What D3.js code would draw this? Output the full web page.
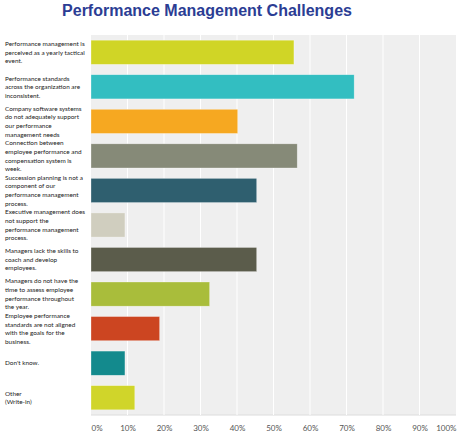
<!DOCTYPE html>
<html>
<head>
<meta charset="utf-8">
<script src="https://cdn.jsdelivr.net/npm/d3@7"></script>
<style>
  body { margin: 0; background: #fff; }
  svg { display: block; }
</style>
</head>
<body>
<div id="chart"></div>
<script>
// chart data
var categories = [
  "Performance management is\nperceived as a yearly tactical\nevent.",
  "Performance standards\nacross the organization are\ninconsistent.",
  "Company software systems\ndo not adequately support\nour performance\nmanagement needs",
  "Connection between\nemployee performance and\ncompensation system is\nweek.",
  "Succession planning is not a\ncomponent of our\nperformance management\nprocess.",
  "Executive management does\nnot support the\nperformance management\nprocess.",
  "Managers lack the skills to\ncoach and develop\nemployees.",
  "Managers do not have the\ntime to assess employee\nperformance throughout\nthe year.",
  "Employee performance\nstandards are not aligned\nwith the goals for the\nbusiness.",
  "Don't know.",
  "Other\n(Write-in)"
];
var values = [55.6, 72.1, 40.2, 56.5, 45.4, 9.3, 45.4, 32.5, 18.8, 9.3, 12.0];
var tickValues = [0, 10, 20, 30, 40, 50, 60, 70, 80, 90, 100];

var barColors = ["#d0d526", "#33bec1", "#f6a821", "#868a78", "#2f5f6f", "#d0cebf",
                 "#5b5c4b", "#a9bd3b", "#cc4521", "#138a8d", "#d0d52a"];

var width = 474, height = 443;
var plot = {left: 91, right: 456, top: 35, bottom: 415};

var svg = d3.select("#chart")
  .append("svg")
    .attr("width", width)
    .attr("height", height);

// title
svg.append("text")
  .attr("x", 207)
  .attr("y", 16)
  .attr("text-anchor", "middle")
  .style("font-family", "Liberation Sans, Arial, sans-serif")
  .style("font-weight", "bold")
  .style("font-size", "16px")
  .style("fill", "#2b3d94")
  .text("Performance Management Challenges");

// scales
var x = d3.scaleLinear()
  .domain([0, 100])
  .range([plot.left, plot.right]);

var y = d3.scaleBand()
  .domain(d3.range(categories.length))
  .range([plot.top, plot.bottom])
  .paddingInner(0.3)
  .paddingOuter(0.15);

// plot background
svg.append("rect")
  .attr("x", plot.left)
  .attr("y", plot.top)
  .attr("width", plot.right - plot.left)
  .attr("height", plot.bottom - plot.top)
  .style("fill", "#efefef");

svg.append("line")
  .attr("x1", plot.left).attr("x2", plot.right)
  .attr("y1", plot.bottom).attr("y2", plot.bottom)
  .style("stroke", "#dcdcdc");

// vertical grid lines
svg.selectAll(".grid")
  .data(tickValues.slice(1, -1))
  .enter()
  .append("line")
    .attr("class", "grid")
    .attr("x1", function(d) { return x(d) })
    .attr("x2", function(d) { return x(d) })
    .attr("y1", plot.top)
    .attr("y2", plot.bottom)
    .style("stroke", "#ffffff")
    .style("stroke-width", 1);

// bars
svg.selectAll(".bar")
  .data(values)
  .enter()
  .append("rect")
    .attr("class", "bar")
    .attr("x", x(0))
    .attr("y", function(d, i) { return y(i) })
    .attr("width", function(d) { return x(d) - x(0) })
    .attr("height", y.bandwidth())
    .style("fill", function(d, i) { return barColors[i] })
    .style("stroke", "#ffffff")
    .style("stroke-opacity", 0.5)
    .style("stroke-width", 0.6);

// category labels, multi-line, centred on each band
var lineH = 8.6;
var labels = svg.selectAll(".cat")
  .data(categories)
  .enter()
  .append("text")
    .attr("class", "cat")
    .attr("x", 5)
    .attr("y", function(d, i) {
      var n = d.split("\n").length;
      return y(i) + y.bandwidth() / 2 - (n - 1) * lineH / 2 + 2.3;
    })
    .style("font-family", "Lato, Open Sans, sans-serif")
    .style("font-size", "6.4px")
    .style("fill", "#1a1a1a");

labels.each(function(d) {
  var t = d3.select(this);
  d.split("\n").forEach(function(line, k) {
    t.append("tspan")
      .attr("x", 5)
      .attr("dy", k === 0 ? 0 : lineH)
      .text(line);
  });
});

// x axis
var xAxis = svg.append("g")
  .attr("transform", "translate(0," + (plot.bottom + 16) + ")")
  .call(d3.axisBottom(x)
    .tickValues(tickValues)
    .tickSize(0)
    .tickFormat(function(d) { return d + "%" }));

xAxis.select(".domain").remove();
xAxis.selectAll("text")
  .attr("y", 0)
  .attr("dy", 0)
  .style("font-family", "Lato, Open Sans, sans-serif")
  .style("font-size", "8px")
  .style("fill", "#555")
  .attr("text-anchor", function(d) {
    return d === 100 ? "end" : (d === 0 ? "start" : "middle");
  });
</script>
</body>
</html>
